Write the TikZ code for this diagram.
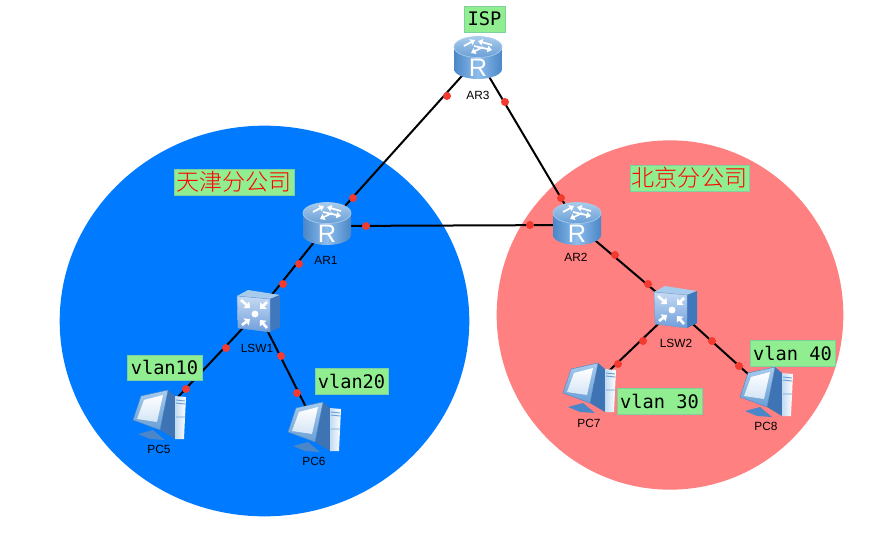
\documentclass[tikz,border=0pt]{standalone}
\usepackage{fontspec}
\setmainfont{Liberation Sans}
\newfontfamily\cjkfont{Noto Sans CJK SC Light}
\newfontfamily\monofont{DejaVu Sans Mono}
\usetikzlibrary{arrows.meta,shapes.geometric}
\definecolor{bluezone}{HTML}{007BFF}
\definecolor{pinkzone}{HTML}{FF8080}
\definecolor{tagcolor}{HTML}{90EE90}
\definecolor{tagedge}{HTML}{7FD0A0}
\definecolor{dotred}{HTML}{F23A30}
\definecolor{rdark}{HTML}{4A86C8}
\definecolor{rlight}{HTML}{8DBDEB}
\definecolor{rtop}{HTML}{A8CBEC}
\definecolor{rtop2}{HTML}{6A9FD6}
\definecolor{swface}{HTML}{C6DAF3}
\definecolor{swface2}{HTML}{6F9EDB}
\definecolor{swside}{HTML}{3F78BC}
\definecolor{pcside}{HTML}{3E74B4}
\tikzset{
  x=0.75pt,y=-0.75pt,
  hub/.style={coordinate},
  link/.style={draw=black,line width=1.5pt},
  dotmark/.style={circle,fill=dotred,draw=none,inner sep=0pt,minimum size=6pt},
  tagbox/.style={fill=tagcolor,draw=tagedge,line width=0.4pt,inner sep=0pt,anchor=center},
  vtag/.style={tagbox,text=black,font=\monofont\fontsize{14}{14}\selectfont},
  cntag/.style={tagbox,text=red,font=\cjkfont\fontsize{17.3}{18}\selectfont},
  iconlabel/.style={text=black,font=\fontsize{8.9}{9}\selectfont,inner sep=0pt},
  whitearrow/.style={draw=white,line width=1.3pt,-{Triangle[length=3.4pt,width=4.8pt]}},
  chunkarrow/.style={draw=white,line width=2pt,-{Triangle[length=3.6pt,width=6.4pt]}},
  pics/routericon/.style={code={
    \shade[left color=rdark,right color=rdark,middle color=rlight]
      (-24,-11) -- (-24,11) .. controls (-24,17) and (-12,21) .. (0,21)
      .. controls (12,21) and (24,17) .. (24,11) -- (24,-11) -- cycle;
    \shade[top color=rtop,bottom color=rtop2,draw=rtop,line width=0.5pt]
      (0,-11) ellipse [x radius=18pt,y radius=7.9pt];
    \draw[whitearrow] (-14,-12) -- (-3,-18);
    \draw[whitearrow] (5,-11) -- (-7,-5);
    \draw[whitearrow] (-4,-12) -- (14,-8);
    \draw[whitearrow] (14,-13) -- (0,-17);
    \node[text=white,inner sep=0pt,font=\fontsize{19}{19}\selectfont] at (0,9.5) {R};
  }},
  pics/switchicon/.style={code={
    \fill[rtop] (-21,-16) -- (-10,-22) -- (22,-17) -- (12,-13) -- cycle;
    \fill[swside] (12,-13) -- (22,-17) -- (22,15) -- (12,20) -- cycle;
    \shade[top color=swface,bottom color=swface2,draw=rtop2,line width=0.3pt]
      (-21,-16) -- (12,-13) -- (12,20) -- (-20,16) -- cycle;
    \fill[white] (-3,2) circle [radius=2.6pt];
    \draw[chunkarrow] (-17,-12) -- (-8,-4);
    \draw[chunkarrow] (9,-10) -- (2,-3);
    \draw[chunkarrow] (-16,13) -- (-8,7);
    \draw[chunkarrow] (9,16) -- (2,8);
  }},
  pics/pcicon/.style={code={
    \fill[rdark] (-23,19) -- (-8,15) -- (4,25) -- (-11,24) -- cycle;
    \fill[pcside] (7,-25) -- (14,-19) -- (14,24) -- (-1,15) -- cycle;
    \shade[top color=rtop,bottom color=rtop2,draw=rdark,line width=0.3pt]
      (-28,5) -- (-20,-19) -- (7,-25) -- (-1,15) -- cycle;
    \shade[top color=white,bottom color=rtop!50]
      (-24,4) -- (-17,-15) -- (2,-20) -- (-4,7) -- cycle;
    \shade[left color=rtop!70,right color=white]
      (14,-19) -- (25,-18) -- (23,24) -- (14,24) -- cycle;
    \draw[rtop2,line width=0.7pt] (15,-15) -- (24,-14) (15,-12) -- (24,-11) (15,2) -- (24,2);
  }},
}
\begin{document}
\begin{tikzpicture}
\useasboundingbox (0,0) rectangle (895,543);
\fill[white] (0,0) rectangle (895,543);
% zones
\fill[bluezone] (264.5,321) ellipse [x radius=153.6pt,y radius=146.5pt];
\fill[pinkzone] (670,315) ellipse [x radius=130pt,y radius=131pt];
% anchor points of the devices
\node[hub] (ar3) at (478,58) {};
\node[hub] (ar1) at (327,226) {};
\node[hub] (ar2) at (577,225) {};
\node[hub] (lsw1) at (258,312) {};
\node[hub] (lsw2) at (675,308) {};
\node[hub] (pc5) at (161,415) {};
\node[hub] (pc6) at (316,427) {};
\node[hub] (pc7) at (591,388) {};
\node[hub] (pc8) at (768,392) {};
% connectors
\draw[link] (ar3) -- (ar1);
\draw[link] (ar3) -- (ar2);
\draw[link] (ar1) -- (ar2);
\draw[link] (ar1) -- (lsw1);
\draw[link] (ar2) -- (lsw2);
\draw[link] (lsw1) -- (pc5);
\draw[link] (lsw1) -- (pc6);
\draw[link] (lsw2) -- (pc7);
\draw[link] (lsw2) -- (pc8);
% devices
\pic at (ar3) {routericon};
\pic[yshift=1.5pt] at (ar1) {routericon};
\pic[yshift=0.75pt] at (ar2) {routericon};
\pic at (lsw1) {switchicon};
\pic at (lsw2) {switchicon};
\pic at (pc5) {pcicon};
\pic at (pc6) {pcicon};
\pic at (pc7) {pcicon};
\pic at (pc8) {pcicon};
% interface dots
\node[dotmark] (d1) at (447,96) {};
\node[dotmark] (d2) at (505,102) {};
\node[dotmark] (d3) at (353,198) {};
\node[dotmark] (d4) at (366,226) {};
\node[dotmark] (d5) at (530,225) {};
\node[dotmark] (d6) at (561,198) {};
\node[dotmark] (d7) at (299,264) {};
\node[dotmark] (d8) at (283,284) {};
\node[dotmark] (d9) at (226,348) {};
\node[dotmark] (d10) at (186,389) {};
\node[dotmark] (d11) at (281,356) {};
\node[dotmark] (d12) at (297,393) {};
\node[dotmark] (d13) at (615,255) {};
\node[dotmark] (d14) at (648,284) {};
\node[dotmark] (d15) at (643,341) {};
\node[dotmark] (d16) at (618,364) {};
\node[dotmark] (d17) at (712,341) {};
\node[dotmark] (d18) at (739,366) {};
% device labels
\node[iconlabel] (lar3) at (478,95) {AR3};
\node[iconlabel] (lar1) at (326,260) {AR1};
\node[iconlabel] (lar2) at (576,257) {AR2};
\node[iconlabel] (llsw1) at (257,348) {LSW1};
\node[iconlabel] (llsw2) at (676,343) {LSW2};
\node[iconlabel] (lpc5) at (159,449) {PC5};
\node[iconlabel] (lpc6) at (314,461) {PC6};
\node[iconlabel] (lpc7) at (589,423) {PC7};
\node[iconlabel] (lpc8) at (766,426) {PC8};
% tags
\node[vtag,minimum width=30.7pt,minimum height=19.5pt] (tisp) at (484.5,19) {ISP};
\node[vtag,minimum width=56pt,minimum height=19pt] (tv10) at (164.5,367.5) {vlan10};
\node[vtag,minimum width=55pt,minimum height=19.5pt] (tv20) at (351.5,381) {vlan20};
\node[vtag,minimum width=64pt,minimum height=19.5pt] (tv30) at (659.5,401) {vlan 30};
\node[vtag,minimum width=64pt,minimum height=19.5pt] (tv40) at (792.5,353) {vlan 40};
\node[cntag,minimum width=90pt,minimum height=19.5pt] (ttj) at (234,182) {天津分公司};
\node[cntag,minimum width=89pt,minimum height=19.5pt] (tbj) at (689.5,178) {北京分公司};
\end{tikzpicture}
\end{document}
